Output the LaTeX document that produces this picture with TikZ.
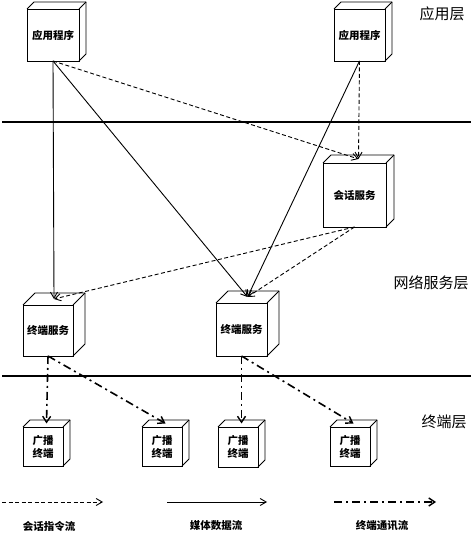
\documentclass[tikz,border=0pt]{standalone}
\usepackage{fontspec}
\newfontfamily\cjk{Noto Sans CJK SC}
\usetikzlibrary{calc,arrows.meta}
\tikzset{
  front/.style={draw=black, line width=0.8pt, fill=white, inner sep=0pt, outer sep=0pt, font=\cjk\bfseries\fontsize{10.5}{13}\selectfont, align=center},
  edge/.style={draw=black, line width=0.8pt, line join=round},
  tip/.style={-{Straight Barb[length=6pt,width=7pt,line width=0.9pt]}},
  media/.style={tip, line width=0.9pt},
  session/.style={tip, line width=0.9pt, dash pattern=on 4pt off 2.5pt},
  term/.style={-{Straight Barb[length=6pt,width=8pt,line width=1.4pt]}, line width=1.6pt, dash pattern=on 8pt off 4pt on 2pt off 4pt},
  layer/.style={font=\cjk\fontsize{15}{15}\selectfont},
  legend/.style={font=\cjk\bfseries\fontsize{10.5}{12}\selectfont},
  rule/.style={line width=2.6pt}
}
\newcommand{\cubebox}[7]{%
  \node[front, minimum width=#4pt, minimum height=#5pt] (#1) at (#2,#3) {#7};
  \draw[edge] (#1.north west) -- ++(#6,#6) -- ($(#1.north east)+(#6,#6)$) -- ($(#1.south east)+(#6,#6)$) -- (#1.south east);
  \draw[edge] (#1.north east) -- ++(#6,#6);
  \coordinate (#1-top) at ($(#1.north)+(#6/2,#6/2)$);
}
\begin{document}
\begin{tikzpicture}[x=1pt,y=1pt]
\useasboundingbox (0,0) rectangle (474,534);
% layer separators
\coordinate (r1a) at (2,412); \coordinate (r1b) at (471,412);
\coordinate (r2a) at (2,158); \coordinate (r2b) at (471,158);
\draw[rule] (r1a) -- (r1b);
\draw[rule] (r2a) -- (r2b);
% boxes
\cubebox{appL}{53}{499}{52}{52}{7}{应用程序}
\cubebox{appR}{359.5}{499}{51}{52}{7}{应用程序}
\cubebox{sess}{354.5}{339}{63}{64}{8}{会话服务}
\cubebox{tsL}{48}{203.5}{50}{51}{12}{终端服务}
\cubebox{tsM}{241.5}{204.5}{51}{53}{12}{终端服务}
\cubebox{btA}{43}{87.5}{40}{39}{7}{广播\\终端}
\cubebox{btB}{162}{87.5}{40}{39}{7}{广播\\终端}
\cubebox{btC}{238}{87}{40}{40}{7}{广播\\终端}
\cubebox{btD}{350}{87.5}{40}{39}{7}{广播\\终端}
% layer labels
\node[layer] (lApp) at (442,520) {应用层};
\node[layer] (lNet) at (431,251) {网络服务层};
\node[layer] (lTerm) at (444,112) {终端层};
% media flows
\draw[media] (appL.south) -- (tsL-top);
\draw[media] (appL.south) -- (tsM-top);
\draw[media] (appR.south) -- (tsM-top);
% session flows
\draw[session] (appL.south) -- (sess-top);
\draw[session] (appR.south) -- (sess-top);
\draw[session] (sess.south) -- (tsL-top);
\draw[session] (sess.south) -- (tsM-top);
% terminal flows
\draw[term] (tsL.south) -- (btA-top);
\draw[term] (tsL.south) -- (btB-top);
\draw[term] (tsM.south) -- (btC-top);
\draw[term] (tsM.south) -- (btD-top);
% legend
\coordinate (g1a) at (2,32); \coordinate (g1b) at (103,32);
\coordinate (g2a) at (167,32); \coordinate (g2b) at (267,32);
\coordinate (g3a) at (334,32); \coordinate (g3b) at (436,32);
\draw[session] (g1a) -- (g1b);
\draw[media] (g2a) -- (g2b);
\draw[term] (g3a) -- (g3b);
\node[legend] (t1) at (49,8) {会话指令流};
\node[legend] (t2) at (216,8) {媒体数据流};
\node[legend] (t3) at (382,8) {终端通讯流};
\end{tikzpicture}
\end{document}
